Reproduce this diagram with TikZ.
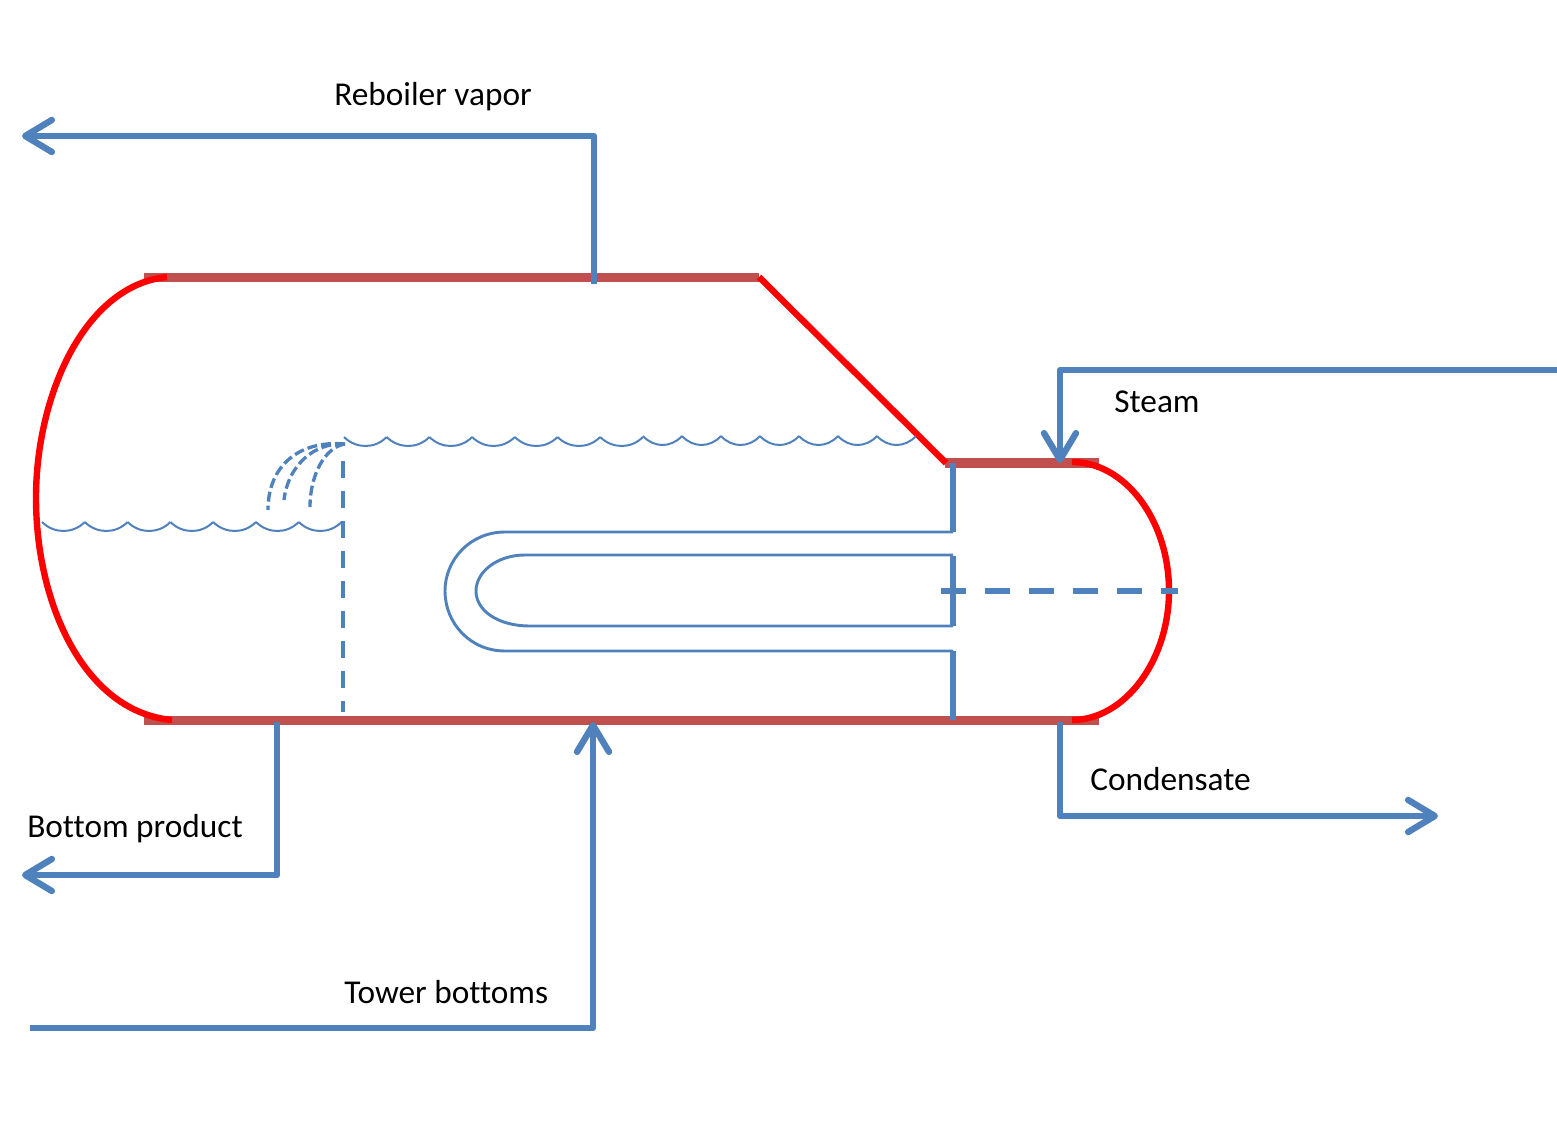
\documentclass[tikz,border=0pt]{standalone}
\usepackage{fontspec}
\setmainfont{Carlito}[Ligatures=NoCommon]
\usetikzlibrary{arrows.meta}
\definecolor{pipeblue}{HTML}{4F81BD}
\definecolor{shellbrown}{HTML}{C0504D}
\tikzstyle{label} = [font=\fontsize{25}{30}\selectfont, text=black, inner sep=0pt, anchor=base west]
\tikzstyle{pipe} = [draw=pipeblue, line width=4.8pt, line join=round]
\tikzstyle{arrow} = [pipe, -{Straight Barb[round, length=20pt, width=24pt, line width=4.8pt]}]
\tikzstyle{shell} = [draw=shellbrown, line width=7pt]
\tikzstyle{head} = [draw=red, line width=4.8pt]
\tikzstyle{tube} = [draw=pipeblue, line width=2.2pt]
\tikzstyle{sheet} = [draw=pipeblue, line width=4.4pt]
\tikzstyle{wave} = [draw=pipeblue, line width=1.5pt]
\tikzstyle{spill} = [draw=pipeblue, line width=2.5pt, dash pattern=on 7.5pt off 3pt]

\begin{document}
\begin{tikzpicture}[x=0.75pt, y=-0.75pt]

	\useasboundingbox (0,0) rectangle (1557,1137);

	\node (vapor) [label] at (334,106) {Reboiler vapor};
	\node (steam) [label] at (1114,413) {Steam};
	\node (cond) [label] at (1090,790) {Condensate};
	\node (prod) [label] at (27,837) {Bottom product};
	\node (feed) [label] at (344,1003) {Tower bottoms};

	% shell
	\draw [shell] (144,277.5) -- (759,277.5);
	\draw [shell] (144,720.5) -- (1099,720.5);
	\draw [shell] (945,463) -- (1099,463);
	\draw [head] (759,277) -- (946,463);
	\draw [head] (167,277) .. controls (85,285) and (36,395) .. (36,498) .. controls (36,605) and (85,712) .. (172,720);
	\draw [head] (1072,462) .. controls (1125,462) and (1169,520) .. (1169,591) .. controls (1169,660) and (1125,720) .. (1072,720);

	% tube sheet
	\draw [sheet] (953,463) -- (953,532);
	\draw [sheet] (953,556) -- (953,626);
	\draw [sheet] (953,651) -- (953,720);
	\draw [pipe, line width=4.4pt, dash pattern=on 18.75pt off 14.25pt] (941,591) -- (1178,591);

	% tubes
	\draw [tube] (953,532) -- (505,532) .. controls (470,532) and (445,560) .. (445,591) .. controls (445,623) and (470,651) .. (505,651) -- (953,651);
	\draw [tube] (953,555) -- (525,555) .. controls (497,555) and (476,572) .. (476,591) .. controls (476,610) and (497,626) .. (530,626) -- (953,626);

	% liquid
	\foreach \x in {42,84.8,...,300}
		\draw [wave] (\x,522) .. controls (\x+12,534) and (\x+31,534) .. (\x+42.8,522);
	\foreach \x in {344,386.7,...,630}
		\draw [wave] (\x,437) .. controls (\x+12,449) and (\x+31,449) .. (\x+42.7,437);
	\foreach \x in {643,682,...,880}
		\draw [wave] (\x,436) .. controls (\x+11,448) and (\x+28,448) .. (\x+39,436);

	% weir
	\draw [sheet, line width=3.4pt, dash pattern=on 12.5pt off 10pt] (343,461) -- (343,712);
	\draw [spill] (345,444) .. controls (300,440) and (268,465) .. (268,510);
	\draw [spill] (345,444) .. controls (315,442) and (288,465) .. (284,500);
	\draw [spill] (345,444) .. controls (325,447) and (310,475) .. (310,507);

	% lines
	\coordinate (vaporout) at (594,284);
	\coordinate (vaporend) at (22,136);
	\coordinate (prodout) at (277,722);
	\coordinate (prodend) at (22,875);
	\coordinate (feedin) at (30,1028);
	\coordinate (feedend) at (593,722);
	\coordinate (condout) at (1060,722);
	\coordinate (condend) at (1438,816);
	\coordinate (steamin) at (1557,370);
	\coordinate (steamend) at (1060,463);

	\draw [arrow] (vaporout) |- (vaporend);
	\draw [arrow] (prodout) |- (prodend);
	\draw [arrow] (feedin) -| (feedend);
	\draw [arrow] (condout) |- (condend);
	\draw [arrow] (steamin) -| (steamend);

\end{tikzpicture}
\end{document}
